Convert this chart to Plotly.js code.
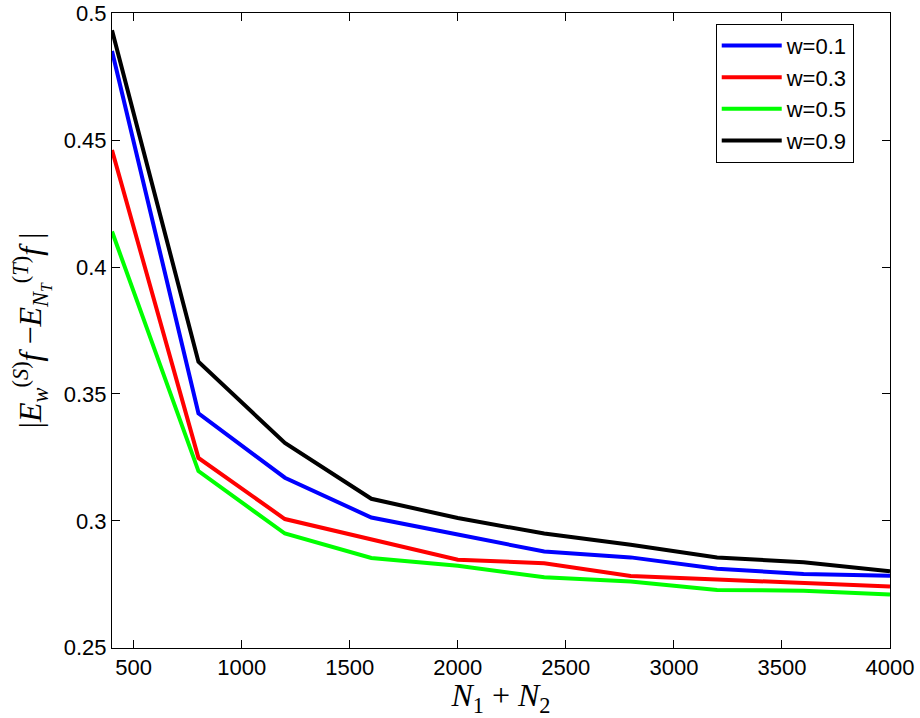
<!DOCTYPE html>
<html>
<head>
<meta charset="utf-8">
<script src="https://cdn.plot.ly/plotly-3.0.1.min.js"></script>
<style>
  body { margin: 0; background: #fff; }
  #plot { width: 920px; height: 718px; }
</style>
</head>
<body>
<div id="plot"></div>
<script>
// sample sizes N1 + N2
var sizes = [400, 800, 1200, 1600, 2000, 2400, 2800, 3200, 3600, 4000];

// error values, one list per weight w
var err_w01 = [0.4851, 0.3424, 0.3170, 0.3013, 0.2946, 0.2879, 0.2856, 0.2811, 0.2791, 0.2784];
var err_w03 = [0.4461, 0.3248, 0.3007, 0.2928, 0.2847, 0.2833, 0.2783, 0.2769, 0.2754, 0.2741];
var err_w05 = [0.4140, 0.3196, 0.2950, 0.2854, 0.2823, 0.2778, 0.2761, 0.2728, 0.2725, 0.2710];
var err_w09 = [0.4933, 0.3627, 0.3307, 0.3087, 0.3011, 0.2950, 0.2906, 0.2856, 0.2837, 0.2801];

var names = ['w=0.1', 'w=0.3', 'w=0.5', 'w=0.9'];
var colors = ['#0000ff', '#ff0000', '#00ff00', '#000000'];
var series = [err_w01, err_w03, err_w05, err_w09];

var yTicks = [0.25, 0.3, 0.35, 0.4, 0.45, 0.5];
var yTickText = ['0.25', '0.3', '0.35', '0.4', '0.45', '0.5'];
var xTicks = [500, 1000, 1500, 2000, 2500, 3000, 3500, 4000];

var traces = series.map(function (ys, i) {
  return {
    x: sizes,
    y: ys,
    name: names[i],
    type: 'scatter',
    mode: 'lines',
    line: { color: colors[i], width: 4 }
  };
});

var axisStyle = {
  showline: true,
  linecolor: '#000',
  linewidth: 1,
  mirror: 'ticks',
  ticks: 'inside',
  ticklen: 8,
  tickcolor: '#000',
  showgrid: false,
  zeroline: false,
  ticklabeloverflow: 'allow',
  tickfont: { family: 'Liberation Sans, Arial, sans-serif', size: 22, color: '#000' }
};

var layout = {
  width: 920,
  height: 718,
  margin: { l: 112, r: 30, t: 13, b: 70 },
  paper_bgcolor: '#fff',
  plot_bgcolor: '#fff',
  showlegend: true,
  legend: {
    x: 0.776, y: 0.983, xanchor: 'left', yanchor: 'top',
    bordercolor: '#000', borderwidth: 1, bgcolor: '#fff',
    font: { family: 'Liberation Sans, Arial, sans-serif', size: 22, color: '#000' },
    itemwidth: 60,
    tracegroupgap: 0
  },
  xaxis: Object.assign({}, axisStyle, {
    range: [400, 4000],
    tickvals: xTicks,
    title: {
      text: '<i>N</i><sub>1</sub> + <i>N</i><sub>2</sub>',
      font: { family: 'Liberation Serif, Times New Roman, serif', size: 32, color: '#000' },
      standoff: 4
    }
  }),
  yaxis: Object.assign({}, axisStyle, {
    range: [0.2499, 0.5001],
    tickvals: yTicks,
    ticktext: yTickText,
    title: {
      text: '|<i>E</i><sub><i>w</i></sub><sup>(<i>S</i>)</sup><i>f</i> \u2212<i>E</i><sub><i>N<sub>T</sub></i></sub><sup>(<i>T</i>)</sup><i>f</i> |',
      font: { family: 'Liberation Serif, Times New Roman, serif', size: 32, color: '#000' },
      standoff: 12
    }
  })
};

Plotly.newPlot('plot', traces, layout, { displayModeBar: false, staticPlot: true });
</script>
</body>
</html>
